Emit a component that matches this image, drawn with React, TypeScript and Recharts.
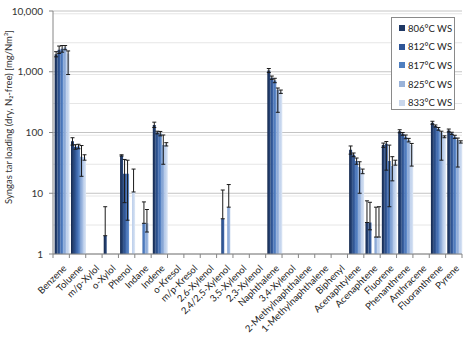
import React from 'react';
import { BarChart, Bar, XAxis, YAxis, CartesianGrid, ErrorBar, Legend, Label } from 'recharts';

const categories = [
  'Benzene', 'Toluene', 'm/p-Xylol', 'o-Xylol', 'Phenol', 'Indane', 'Indene', 'o-Kresol',
  'm/p-Kresol', '2,6-Xylenol', '2,4/2,5-Xylenol', '3,5-Xylenol', '2,3-Xylenol', 'Naphthalene',
  '3,4-Xylenol', '2-Methylnaphthalene', '1-Methylnaphthalene', 'Biphenyl', 'Acenaphtylene',
  'Acenaphtene', 'Fluorene', 'Phenanthrene', 'Anthracene', 'Fluoranthrene', 'Pyrene',
];

const seriesNames = ['806°C WS', '812°C WS', '817°C WS', '825°C WS', '833°C WS'];

// tar loadings [mg/Nm3], null = not detected
const v806 = [1950, 72, null, 2, 42, null, 133, null, null, null, null, null, null, 1050, null, null, null, null, 52, 3.3, 62, 105, null, 145, 108];
const v812 = [2300, 58, null, null, 21, null, 100, null, null, null, 3.8, null, null, 800, null, null, null, null, 43, 3.3, 65, 95, null, 128, 97];
const v817 = [2400, 59, null, null, 21, 3.2, 96, null, null, null, null, null, null, 720, null, null, null, null, 34, null, 34, 85, null, 115, 85];
const v825 = [2500, 40, null, null, null, 3.2, 62, null, null, null, 5.9, null, null, 500, null, null, null, null, 27, 1.9, 28, 75, null, 100, 75];
const v833 = [2000, 39, null, null, 10.5, null, 64, null, null, null, null, null, null, 470, null, null, null, null, 23, 1.9, 32, 62, null, 85, 70];

// error bars [minus, plus]
const e806 = [[190, 190], [10, 10], null, [0, 4], [1, 1], null, [12, 15], null, null, null, null, null, null, [80, 80], null, null, null, null, [8, 8], [0, 4.2], [5, 5], [6, 6], null, [8, 8], [6, 6]];
const e812 = [[300, 350], [5, 5], null, null, [14, 15], null, [5, 5], null, null, null, [0, 7.5], null, null, [50, 50], null, null, null, null, [3, 3], [0.8, 3.8], [41, 6], [5, 5], null, [5, 5], [4, 4]];
const e817 = [[300, 300], [5, 5], null, null, [17.4, 14], [0, 4], [8, 8], null, null, null, null, null, null, [60, 60], null, null, null, null, [4, 4], null, [28, 28], [6, 6], null, [6, 6], [5, 5]];
const e825 = [[200, 200], [21, 21], null, null, null, [0.9, 2.2], [32, 29], null, null, null, [0, 8], null, null, [285, 40], null, null, null, null, [17, 6], [0, 4], [12, 12], [5, 5], null, [65, 5], [48, 6]];
const e833 = [[1100, 200], [4, 4], null, null, [0, 14.5], null, [4, 4], null, null, null, null, null, null, [30, 30], null, null, null, null, [2, 2], [0, 4.1], [3, 3], [34, 4], null, [3, 3], [3, 3]];

const yTicks = [1, 10, 100, 1000, 10000];
const minorGrid = [2, 3, 4, 5, 6, 7, 8, 9, 20, 30, 40, 50, 60, 70, 80, 90, 200, 300, 400, 500, 600, 700, 800, 900, 2000, 3000, 4000, 5000, 6000, 7000, 8000, 9000];

const colors = ['#1f3864', '#2f5597', '#4f7fc0', '#9ab3d9', '#c9d7ec'];
const gradients = [
  ['#15294d', '#2b4a80'],
  ['#25487f', '#4068ad'],
  ['#3b68ad', '#6a94d1'],
  ['#7d9ed0', '#abc2e6'],
  ['#b6cae9', '#dde7f5'],
];

const keys = ['806', '812', '817', '825', '833'];
const values = [v806, v812, v817, v825, v833];
const errors = [e806, e812, e817, e825, e833];

const data = categories.map((name, i) => {
  const row: any = { name };
  keys.forEach((k, s) => {
    row['s' + k] = values[s][i];
    row['e' + k] = errors[s][i];
  });
  return row;
});

const FONT = 'Lato, "Liberation Sans", sans-serif';
const BAND = 409 / categories.length;

const XTick = (props: any) => {
  const { x, y, payload, index } = props;
  const left = x - BAND / 2;
  const tx = x + 6;
  const ty = y + 15;
  return (
    <g>
      <line x1={left} y1={y} x2={left} y2={y + 4} stroke="#868686" />
      {index === categories.length - 1 && (
        <line x1={x + BAND / 2} y1={y} x2={x + BAND / 2} y2={y + 4} stroke="#868686" />
      )}
      <text x={tx} y={ty} transform={`rotate(-45 ${tx} ${ty})`} textAnchor="end" fontSize={9.5} fill="#222" fontFamily={FONT}>
        {payload.value}
      </text>
    </g>
  );
};

const LegendBox = () => (
  <div style={{ border: '1px solid #8a8a8a', background: '#fff', width: 64, height: 93, boxSizing: 'border-box', paddingTop: 1, fontFamily: FONT }}>
    {seriesNames.map((n, i) => (
      <div key={n} style={{ display: 'flex', alignItems: 'center', height: 18.6, paddingLeft: 7, fontSize: 9.5, color: '#222' }}>
        <span style={{ display: 'inline-block', width: 6, height: 6, background: colors[i], marginRight: 3 }} />
        {n}
      </div>
    ))}
  </div>
);

export default function App() {
  return (
    <div style={{ position: 'absolute', left: 0, top: 0 }}>
      <BarChart
        width={474}
        height={354}
        data={data}
        margin={{ top: 11, right: 12, left: 0, bottom: 0 }}
        barCategoryGap="10%"
        barGap={0}
        style={{ fontFamily: FONT }}
      >
        <defs>
          {keys.map((k, i) => (
            <linearGradient key={k} id={'g' + k} x1="0" y1="0" x2="1" y2="0">
              <stop offset="0%" stopColor={gradients[i][0]} />
              <stop offset="100%" stopColor={gradients[i][1]} />
            </linearGradient>
          ))}
        </defs>
        <CartesianGrid vertical={false} horizontalValues={minorGrid} stroke="#e6e6e6" />
        <CartesianGrid vertical={false} horizontalValues={yTicks} stroke="#c4c4c4" />
        <XAxis
          dataKey="name"
          interval={0}
          height={100}
          tickSize={0}
          tickMargin={0}
          tickLine={false}
          axisLine={{ stroke: '#868686' }}
          tick={<XTick />}
        />
        <XAxis xAxisId="top" dataKey="name" orientation="top" height={0} tick={false} tickLine={false} axisLine={{ stroke: '#868686' }} />
        <YAxis
          scale="log"
          domain={[1, 10000]}
          ticks={yTicks}
          allowDataOverflow
          width={53}
          tickSize={4}
          tickMargin={6}
          axisLine={{ stroke: '#868686' }}
          tickLine={{ stroke: '#868686' }}
          tick={{ fontSize: 10, fill: '#333', fontFamily: FONT }}
          tickFormatter={(v: number) => v.toLocaleString('en-US')}
        >
          <Label
            content={() => (
              <text x={10} y={117} transform="rotate(-90 10 117)" textAnchor="middle" dominantBaseline="middle" fontSize={9.5} fill="#333" fontFamily={FONT}>
                Syngas tar loading (dry, N₂-free) [mg/Nm³]
              </text>
            )}
          />
        </YAxis>
        <YAxis yAxisId="right" orientation="right" width={0} tick={false} tickLine={false} axisLine={{ stroke: '#868686' }} />
        <Legend
          layout="horizontal"
          verticalAlign="middle"
          align="center"
          wrapperStyle={{ position: 'absolute', left: 391, top: 17, width: 64, height: 93 }}
          content={() => <LegendBox />}
        />
        {keys.map((k, i) => (
          <Bar key={k} dataKey={'s' + k} name={seriesNames[i]} fill={`url(#g${k})`} isAnimationActive={false}>
            <ErrorBar dataKey={'e' + k} direction="y" width={2} stroke="#1a1a1a" strokeWidth={1} />
          </Bar>
        ))}
      </BarChart>
    </div>
  );
}
